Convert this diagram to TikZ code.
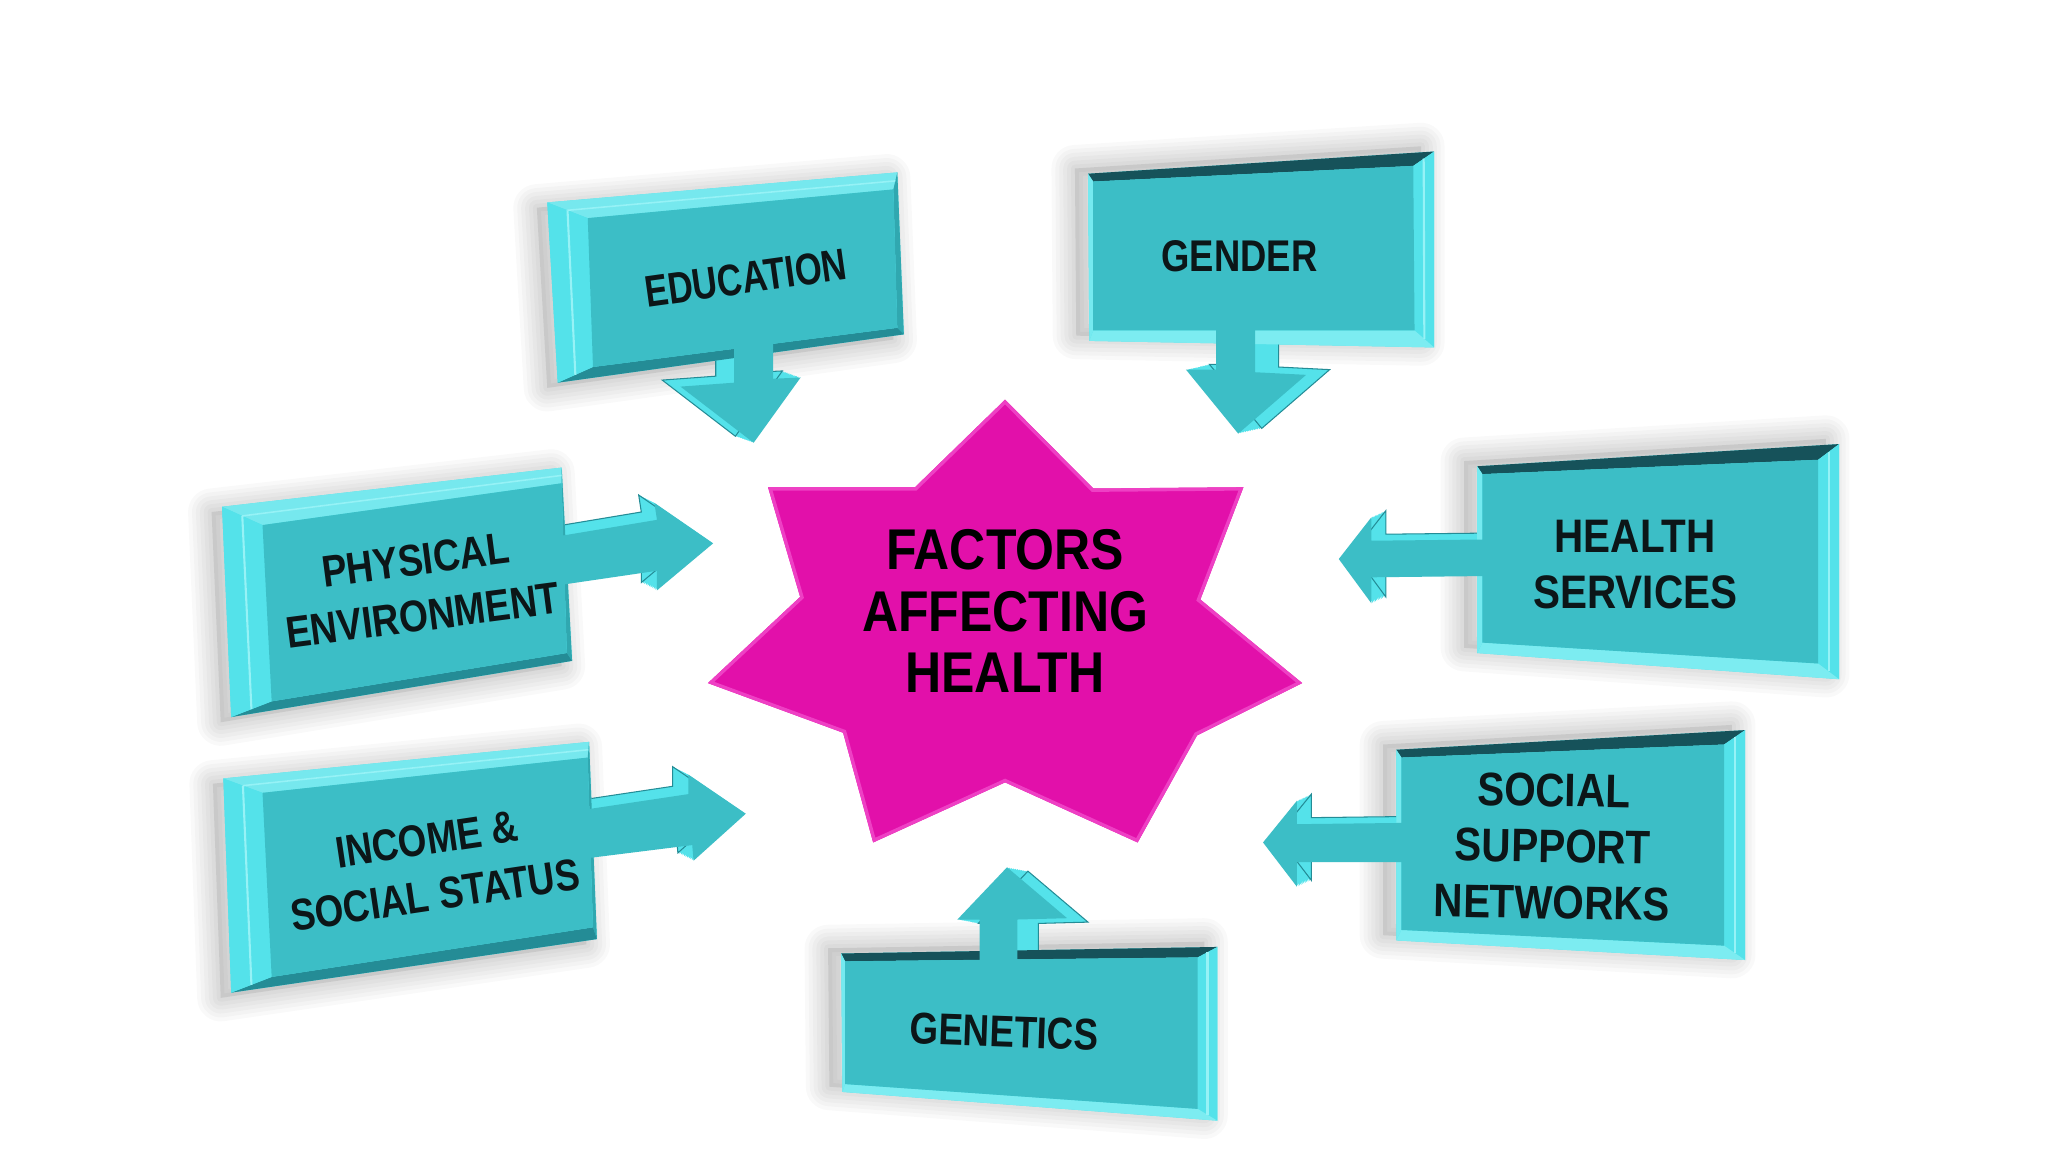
\documentclass[tikz,border=0pt]{standalone}
\usepackage{fontspec}
\setmainfont{Liberation Sans}
\usetikzlibrary{calc}
\definecolor{tealF}{RGB}{60,190,198}
\definecolor{cyanS}{RGB}{84,226,234}
\definecolor{cyanL}{RGB}{150,242,246}
\definecolor{tealD}{RGB}{36,140,150}
\definecolor{tealK}{RGB}{22,82,90}
\definecolor{tealM}{RGB}{48,168,176}
\definecolor{magS}{RGB}{226,16,170}
\definecolor{magL}{RGB}{238,64,196}
\definecolor{txt}{RGB}{12,22,24}
\tikzset{
  lbl/.style={font=\bfseries\fontsize{17}{21.5}\selectfont, text=txt, align=center, transform shape, inner sep=0pt},
  lblbig/.style={font=\bfseries\fontsize{18}{21.5}\selectfont, text=txt, align=center, transform shape, inner sep=0pt},
  title/.style={font=\bfseries\fontsize{22}{23.5}\selectfont, text=black, align=center, transform shape, inner sep=0pt},
}
% soft shadow: dx, dy, path
\newcommand{\softshadow}[3]{%
  \begin{scope}[shift={(#1,#2)}]
  \foreach \w in {18,15,12,9,6,3}{\draw[black, opacity=0.025, line width=\w pt, line join=round] #3;}
  \fill[black, opacity=0.08] #3;
  \end{scope}
}
% left-lit plaque: outer O1..O4, front F1..F4
\newcommand{\plaqueL}[8]{%
  \fill[cyanS] #1 -- #2 -- #3 -- #4 -- cycle;
  \fill[cyanS!80!white] #1 -- #2 -- #6 -- #5 -- cycle;
  \fill[tealM] #2 -- #3 -- #7 -- #6 -- cycle;
  \fill[tealD] #4 -- #3 -- #7 -- #8 -- cycle;
  \fill[cyanS] #1 -- #5 -- #8 -- #4 -- cycle;
  \draw[cyanL, line width=0.8pt] ($#1!0.5!#5$) -- ($#4!0.5!#8$);
  \draw[cyanL, line width=0.6pt] ($#1!0.5!#5$) -- ($#2!0.5!#6$);
  \fill[tealF] #5 -- #6 -- #7 -- #8 -- cycle;
}
% right-lit plaque
\newcommand{\plaqueR}[8]{%
  \fill[cyanS] #1 -- #2 -- #3 -- #4 -- cycle;
  \fill[tealK] #1 -- #2 -- #6 -- #5 -- cycle;
  \fill[cyanS] #2 -- #3 -- #7 -- #6 -- cycle;
  \fill[cyanL!60!cyanS] #4 -- #3 -- #7 -- #8 -- cycle;
  \fill[cyanL!50!cyanS] #1 -- #5 -- #8 -- #4 -- cycle;
  \draw[cyanL, line width=0.8pt] ($#2!0.5!#6$) -- ($#3!0.5!#7$);
  \fill[tealF] #5 -- #6 -- #7 -- #8 -- cycle;
}
% extrusion of an arrow: dx, dy, path
\newcommand{\arrowside}[3]{%
  \foreach \k in {10,...,1}{\fill[cyanS, shift={({\k*(#1)/10},{\k*(#2)/10})}] #3;}
  \draw[tealD, line width=0.4pt, shift={(#1,#2)}] #3;
}
\newcommand{\arrowfront}[1]{\fill[tealF] #1;}
\begin{document}
\begin{tikzpicture}[x=0.5pt,y=-0.5pt]
\useasboundingbox (0,0) rectangle (1568,882);
\fill[white] (0,0) rectangle (1568,882);

% shadows
\softshadow{-8}{4}{(419,155) -- (687,132) -- (692,256) -- (427,293) -- cycle}
\softshadow{-8}{4}{(170,388) -- (430,358) -- (438,506) -- (177,549) -- cycle}
\softshadow{-8}{4}{(171,596) -- (451,568) -- (457,719) -- (177,760) -- cycle}
\softshadow{-10}{-4}{(833,133) -- (1098,116) -- (1098,266) -- (834,261) -- cycle}
\softshadow{-10}{-4}{(1131,357) -- (1408,340) -- (1408,520) -- (1131,500) -- cycle}
\softshadow{-10}{-4}{(1069,574) -- (1336,559) -- (1336,735) -- (1069,720) -- cycle}
\softshadow{-10}{-4}{(644,730) -- (932,725) -- (932,858) -- (645,836) -- cycle}

% star
\fill[magS] (769.5,306) -- (837,374) -- (952,373) -- (919,459) -- (997,523) -- (916.5,563) -- (871,645) -- (769.5,599) -- (668.5,645) -- (645.5,561) -- (542,523) -- (612.6,457) -- (588,373) -- (700.6,373) -- cycle;
\begin{scope}
\clip (769.5,306) -- (837,374) -- (952,373) -- (919,459) -- (997,523) -- (916.5,563) -- (871,645) -- (769.5,599) -- (668.5,645) -- (645.5,561) -- (542,523) -- (612.6,457) -- (588,373) -- (700.6,373) -- cycle;
\draw[magL, line width=2.6pt] (769.5,306) -- (837,374) -- (952,373) -- (919,459) -- (997,523) -- (916.5,563) -- (871,645) -- (769.5,599) -- (668.5,645) -- (645.5,561) -- (542,523) -- (612.6,457) -- (588,373) -- (700.6,373) -- cycle;
\end{scope}
\node[title, xscale=0.87] (fah) at (769.5,468) {FACTORS\\AFFECTING\\HEALTH};

% arrow sides
\arrowside{-14}{-5}{(562,262) -- (562,293) -- (521,296) -- (577,339) -- (613,289) -- (592,290) -- (592,258) -- cycle}
\arrowside{18}{-4}{(931,248) -- (931,283) -- (908,283) -- (948,332) -- (1000,287) -- (961,285) -- (961,248) -- cycle}
\arrowside{-12}{-6}{(425,411) -- (503,398) -- (501,385) -- (546,416) -- (503,452) -- (503,437) -- (428,448) -- cycle}
\arrowside{-12}{-6}{(447,620) -- (527,608) -- (527,593) -- (571,623) -- (531,659) -- (530,647) -- (450,657) -- cycle}
\arrowside{11}{-5}{(1140,413) -- (1050,414) -- (1050,396) -- (1025,428) -- (1050,462) -- (1050,442) -- (1140,441) -- cycle}
\arrowside{11}{-5}{(1078,630) -- (993,631) -- (993,613) -- (967,645) -- (993,679) -- (993,660) -- (1078,660) -- cycle}
\arrowside{16}{3}{(750,740) -- (750,704) -- (733,704) -- (771,664) -- (817,703) -- (779,704) -- (779,740) -- cycle}

% plaques
\plaqueL{(419,155)}{(687,132)}{(692,256)}{(427,293)}{(450,167)}{(684,145)}{(687,251)}{(454,281)}
\plaqueL{(170,388)}{(430,358)}{(438,506)}{(177,549)}{(201,402)}{(430,370)}{(434,500)}{(208,537)}
\plaqueL{(171,596)}{(451,568)}{(457,719)}{(177,760)}{(201,607)}{(450,580)}{(454,710)}{(208,748)}
\plaqueR{(833,133)}{(1098,116)}{(1098,266)}{(834,261)}{(837,139)}{(1082,127)}{(1083,253)}{(837,253)}
\plaqueR{(1131,357)}{(1408,340)}{(1408,520)}{(1131,500)}{(1135,363)}{(1392,352)}{(1392,508)}{(1135,492)}
\plaqueR{(1069,574)}{(1336,559)}{(1336,735)}{(1069,720)}{(1073,580)}{(1320,570)}{(1320,724)}{(1073,712)}
\plaqueR{(644,730)}{(932,725)}{(932,858)}{(645,836)}{(647,736)}{(917,733)}{(917,849)}{(647,830)}

% arrow fronts
\arrowfront{(562,262) -- (562,293) -- (521,296) -- (577,339) -- (613,289) -- (592,290) -- (592,258) -- cycle}
\arrowfront{(931,248) -- (931,283) -- (908,283) -- (948,332) -- (1000,287) -- (961,285) -- (961,248) -- cycle}
\arrowfront{(425,411) -- (503,398) -- (501,385) -- (546,416) -- (503,452) -- (503,437) -- (428,448) -- cycle}
\arrowfront{(447,620) -- (527,608) -- (527,593) -- (571,623) -- (531,659) -- (530,647) -- (450,657) -- cycle}
\arrowfront{(1140,413) -- (1050,414) -- (1050,396) -- (1025,428) -- (1050,462) -- (1050,442) -- (1140,441) -- cycle}
\arrowfront{(1078,630) -- (993,631) -- (993,613) -- (967,645) -- (993,679) -- (993,660) -- (1078,660) -- cycle}
\arrowfront{(750,740) -- (750,704) -- (733,704) -- (771,664) -- (817,703) -- (779,704) -- (779,740) -- cycle}

% labels
\node[lbl, rotate=8, xscale=0.78] (edu) at (571,213) {EDUCATION};
\node[lbl, xscale=0.82] (gen) at (949,196) {GENDER};
\node[lbl, rotate=7.5, xscale=0.84] (phy) at (321,450) {PHYSICAL\\ENVIRONMENT};
\node[lblbig, xscale=0.86] (hs) at (1252,432) {HEALTH\\SERVICES};
\node[lbl, rotate=8.5, xscale=0.83] (inc) at (330,664) {INCOME \&\\SOCIAL STATUS};
\node[lblbig, rotate=-1, xscale=0.86] (ssn) at (1189,648) {SOCIAL\\SUPPORT\\NETWORKS};
\node[lbl, rotate=-2, xscale=0.83] (gnt) at (769,790) {GENETICS};
\end{tikzpicture}
\end{document}
